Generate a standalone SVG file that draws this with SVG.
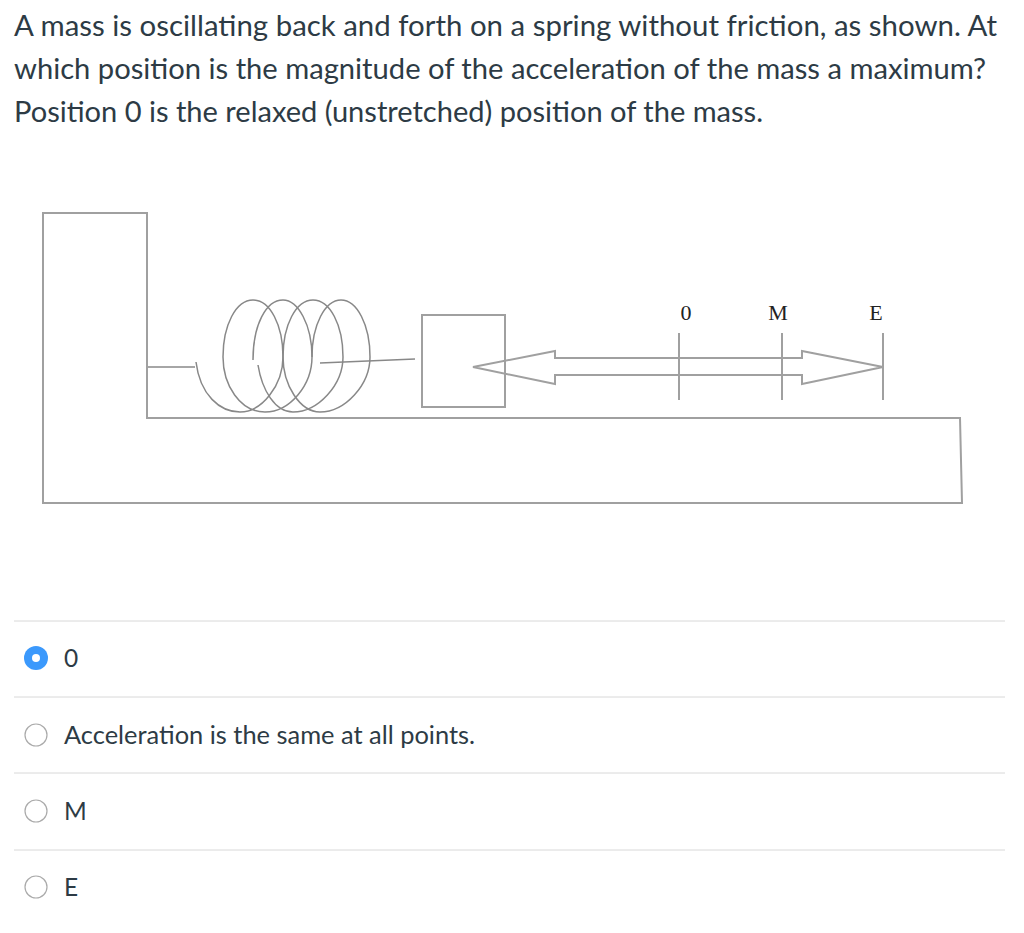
<svg xmlns="http://www.w3.org/2000/svg" width="1024" height="933" viewBox="0 0 1024 933">
<style>
.q{font-family:Lato,"Liberation Sans",sans-serif;font-size:28.5px;fill:#2d3b45}
.o{font-family:Lato,"Liberation Sans",sans-serif;font-size:24.5px;fill:#2d3b45}
.l{font-family:"Liberation Serif",serif;font-size:22px;fill:#222}
.g{fill:none;stroke:#a0a0a0;stroke-width:2}
.s{fill:none;stroke:#888;stroke-width:1.5}
.sep{stroke:#d8d8d8;stroke-width:1}
.r{fill:#fff;stroke:#aaa;stroke-width:1.2}
</style>
<rect width="1024" height="933" fill="#fff"/>
<text class="q" x="14" y="36" textLength="983" lengthAdjust="spacingAndGlyphs">A mass is oscillating back and forth on a spring without friction, as shown.  At</text>
<text class="q" x="14" y="79" textLength="972" lengthAdjust="spacingAndGlyphs">which position is the magnitude of the acceleration of the mass a maximum?</text>
<text class="q" x="14" y="122" textLength="749" lengthAdjust="spacingAndGlyphs">Position 0 is the relaxed (unstretched) position of the mass.</text>
<g id="frame"><path class="g" d="M43 213H147V418H960L962 503H43Z"/></g>
<g id="spring">
<path class="s" d="M148 367H195"/>
<path class="s" d="M196 362C200 395 220 412 240 412C262 412 283 385 283 357C283 325 270 300 253 300C236 300 223 325 223 357C223 385 240 412 265 412C290 412 312 385 312 357C312 325 298 300 283 300C266 300 253 325 253 360"/>
<path class="s" d="M258 365C262 390 275 412 293 412C318 412 343 385 343 357C343 325 330 300 313 300C296 300 283 325 283 357C283 385 300 412 320 412C345 412 370 385 370 357C370 325 357 300 341 300C325 300 312 325 312 357"/>
<path class="s" d="M320 363L415 359"/>
</g>
<g id="mass"><rect class="g" x="422" y="315" width="83" height="92" stroke-width="1.5"/></g>
<g id="connectors">
<path class="g" stroke-width="1.5" d="M473 367L555 351V358H802V351L883 367L802 384V375H555V384Z"/>
<path class="g" stroke-width="1.5" d="M679 333V400M782 333V400M883 333V400"/>
</g>
<text class="l" x="686" y="320" text-anchor="middle">0</text>
<text class="l" x="778" y="320" text-anchor="middle">M</text>
<text class="l" x="876" y="320" text-anchor="middle">E</text>
<g id="options">
<line class="sep" x1="14" y1="621" x2="1005" y2="621"/>
<line class="sep" x1="14" y1="697" x2="1005" y2="697"/>
<line class="sep" x1="14" y1="773" x2="1005" y2="773"/>
<line class="sep" x1="14" y1="850" x2="1005" y2="850"/>
<circle cx="36" cy="658" r="12" fill="#3b99fc"/><circle cx="36" cy="658" r="4" fill="#fff"/>
<text class="o" x="64" y="667">0</text>
<circle class="r" cx="36" cy="735" r="11"/>
<text class="o" x="64" y="744" textLength="411" lengthAdjust="spacingAndGlyphs">Acceleration is the same at all points.</text>
<circle class="r" cx="36" cy="811" r="11"/>
<text class="o" x="64" y="820">M</text>
<circle class="r" cx="36" cy="887" r="11"/>
<text class="o" x="64" y="896">E</text>
</g>
</svg>
